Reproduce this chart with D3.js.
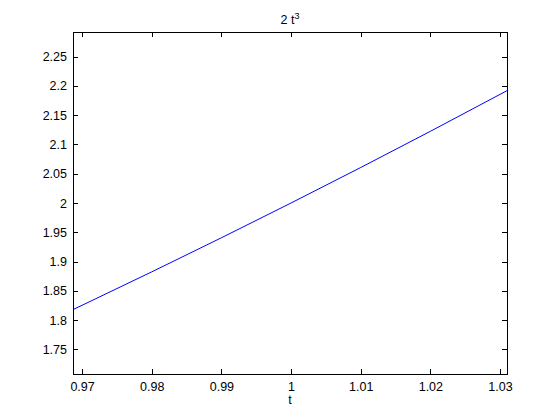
<!DOCTYPE html>
<html><head><meta charset="utf-8">
<script src="https://cdn.jsdelivr.net/npm/d3@7"></script>
<style>body{margin:0;background:#fff;} text{font-family:"Liberation Sans",Arial,sans-serif;}</style>
</head><body>
<script>
const tValues = [0.9687, 0.97, 0.98, 0.99, 1.0, 1.01, 1.02, 1.03, 1.031];
const yValues = [1.818, 1.8253, 1.8824, 1.9406, 2.0, 2.0606, 2.1224, 2.1855, 2.1918];
const xTicks = [0.97, 0.98, 0.99, 1, 1.01, 1.02, 1.03];
const yTicks = [1.75, 1.8, 1.85, 1.9, 1.95, 2, 2.05, 2.1, 2.15, 2.2, 2.25];
const xDomain = [0.9687, 1.031];
const yDomain = [1.708, 2.292];

const W = 560, H = 420;
const L = 73, R = 507, T = 32, B = 374;
const svg = d3.select("body").append("svg").attr("width", W).attr("height", H);
svg.append("rect").attr("width", W).attr("height", H).attr("fill", "#fff");

const x = d3.scaleLinear().domain(xDomain).range([L, R]);
const y = d3.scaleLinear().domain(yDomain).range([B, T]);
const fmt = d => String(+d.toFixed(2));
const fs = 12.5;
const tl = 5;

svg.append("path")
  .datum(tValues.map((t, i) => [t, yValues[i]]))
  .attr("fill", "none").attr("stroke", "#0000ff").attr("stroke-width", 1)
  .attr("d", d3.line().x(d => x(d[0])).y(d => y(d[1])));

function styleAxis(g, hideText) {
  g.select(".domain").remove();
  g.selectAll("line").attr("stroke", "#000").attr("shape-rendering", "crispEdges");
  g.selectAll("text").attr("font-size", fs).attr("fill", "#000");
  if (hideText) g.selectAll("text").remove();
}
svg.append("g").attr("transform", `translate(0,${B})`)
  .call(d3.axisTop(x).tickValues(xTicks).tickSize(tl).tickFormat(fmt))
  .call(g => { g.selectAll("text").remove(); styleAxis(g); });
// bottom labels
svg.append("g").attr("transform", `translate(0,${B})`)
  .call(d3.axisBottom(x).tickValues(xTicks).tickSize(0).tickPadding(8).tickFormat(fmt))
  .call(g => styleAxis(g));
svg.append("g").attr("transform", `translate(0,${T})`)
  .call(d3.axisBottom(x).tickValues(xTicks).tickSize(tl).tickFormat(fmt))
  .call(g => styleAxis(g, true));
svg.append("g").attr("transform", `translate(${L},0)`)
  .call(d3.axisRight(y).tickValues(yTicks).tickSize(tl).tickFormat(fmt))
  .call(g => styleAxis(g, true));
svg.append("g").attr("transform", `translate(${L},0)`)
  .call(d3.axisLeft(y).tickValues(yTicks).tickSize(0).tickPadding(6).tickFormat(fmt))
  .call(g => styleAxis(g));
svg.append("g").attr("transform", `translate(${R},0)`)
  .call(d3.axisLeft(y).tickValues(yTicks).tickSize(tl).tickFormat(fmt))
  .call(g => styleAxis(g, true));

svg.append("rect").attr("x", L).attr("y", T).attr("width", R - L).attr("height", B - T)
  .attr("fill", "none").attr("stroke", "#000").attr("shape-rendering", "crispEdges");

svg.append("text").attr("x", (L + R) / 2).attr("y", 404).attr("text-anchor", "middle")
  .attr("font-size", fs).text("t");
const title = svg.append("text").attr("x", (L + R) / 2).attr("y", 24).attr("text-anchor", "middle")
  .attr("font-size", fs);
title.append("tspan").text("2 t");
title.append("tspan").attr("dy", -5).attr("font-size", 9).text("3");
</script>
</body></html>
